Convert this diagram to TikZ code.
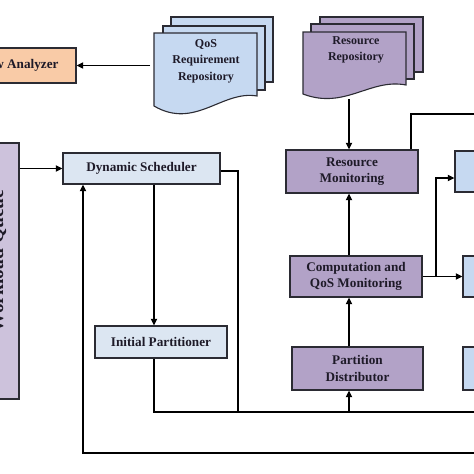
\documentclass[tikz,border=0pt]{standalone}
\usepackage{fontspec}
\setmainfont{Liberation Serif}
\usetikzlibrary{arrows.meta}
\definecolor{bordc}{HTML}{2B2B33}
\definecolor{orangef}{HTML}{F9CBA7}
\definecolor{qosf}{HTML}{C6D9F1}
\definecolor{lightbf}{HTML}{DCE6F2}
\definecolor{purpf}{HTML}{B2A2C7}
\definecolor{queuef}{HTML}{CDC2DC}
\definecolor{txtc}{HTML}{1E1A28}
\begin{document}
\begin{tikzpicture}[x=1pt,y=-1pt,
  boxbase/.style={draw=bordc, line width=1.2pt, inner sep=0pt, align=center,
    text=txtc, font=\bfseries\fontsize{13.2}{16.5}\selectfont},
  bluebox/.style={boxbase, fill=lightbf},
  purpbox/.style={boxbase, fill=purpf},
  docshape/.style={draw=bordc, line width=1.1pt},
  doctext/.style={text=txtc, align=center, font=\bfseries\fontsize{12}{16.5}\selectfont},
  conn/.style={draw=black, line width=1.7pt},
  arr/.style={conn, -{Triangle[length=6.5pt,width=6pt]}}]
\useasboundingbox (0,0) rectangle (474,474);
\fill[white] (0,0) rectangle (474,474);
\clip (0,0) rectangle (474,474);

% ---- documents
\filldraw[docshape, fill=qosf] (171,17) rectangle (273,82);
\filldraw[docshape, fill=qosf] (163,26) rectangle (265,90);
\filldraw[docshape, fill=qosf] (154,33) -- (257,33) -- (257,96)
  .. controls (222,90) and (195,130) .. (154,106) -- cycle;
\node[doctext] (qostext) at (206,61) {QoS\\Requirement\\Repository};

\filldraw[docshape, fill=purpf] (320,17) rectangle (423,72);
\filldraw[docshape, fill=purpf] (311,24) rectangle (414,79);
\filldraw[docshape, fill=purpf] (303,32) -- (406,32) -- (406,85)
  .. controls (370,78) and (345,110) .. (303,94) -- cycle;
\node[doctext] (rrtext) at (356,50) {Resource\\Repository};

% ---- boxes
\node[boxbase, fill=orangef, minimum width=146pt, minimum height=35pt] (analyzer) at (3,65.5) {Workflow Analyzer};
\node[boxbase, fill=queuef, minimum width=40pt, minimum height=256pt] (queue) at (-1,271) {};
\node[rotate=90, anchor=base, text=txtc, font=\bfseries\fontsize{19.5}{22}\selectfont] (queuetext) at (3,261) {Workload Queue};
\node[bluebox, minimum width=157pt, minimum height=31pt] (dsched) at (141.5,168.5) {Dynamic Scheduler};
\node[bluebox, minimum width=132pt, minimum height=32pt] (ipart) at (161,342) {Initial Partitioner};
\node[purpbox, minimum width=132pt, minimum height=43pt] (resmon) at (352,171.5) {Resource\\Monitoring};
\node[purpbox, minimum width=132pt, minimum height=41pt] (compmon) at (356,276.5) {Computation and\\QoS Monitoring};
\node[purpbox, minimum width=131pt, minimum height=43pt] (pdist) at (357.5,368.5) {Partition\\Distributor};
\node[bluebox, fill=qosf, minimum width=85pt, minimum height=41pt] (rone) at (497.5,171.5) {};
\node[bluebox, fill=qosf, minimum width=85pt, minimum height=41pt] (rtwo) at (505.5,276.5) {};
\node[bluebox, fill=qosf, minimum width=85pt, minimum height=43pt] (rthree) at (505.5,368.5) {};

% ---- helper coordinates
\coordinate (qosL) at (150,65.5);
\coordinate (rrB) at (349,99);
\coordinate (xmid) at (349,0);
\coordinate (xrm) at (411,0);
\coordinate (topR) at (480,114);
\coordinate (xbr) at (436,0);
\coordinate (xsd) at (154,0);
\coordinate (xdl) at (238,0);
\coordinate (xlp) at (83,0);
\coordinate (busR) at (480,412);
\coordinate (loopR) at (480,453);
\coordinate (busJ) at (349,412);

% ---- connectors
\draw[arr] (qosL) -- (analyzer.east);
\draw[arr] (rrB) -- (rrB |- resmon.north);
\draw[conn] (xrm |- resmon.north) |- (topR);
\draw[arr] (xmid |- compmon.north) -- (xmid |- resmon.south);
\draw[arr] (xmid |- pdist.north) -- (xmid |- compmon.south);
\draw[arr] (busJ) -- (xmid |- pdist.south);
\draw[arr] (compmon.east) -- (compmon.east -| rtwo.west);
\draw[arr] (xbr |- compmon.east) |- ([yshift=-6.5pt]rone.west);
\draw[arr] (queue.east |- dsched.west) -- (dsched.west);
\draw[arr] (xsd |- dsched.south) -- (xsd |- ipart.north);
\draw[conn] (xsd |- ipart.south) |- (busR);
\draw[conn] ([yshift=-2.5pt]dsched.east) -| (xdl |- busR);
\draw[arr] (loopR) -| (xlp |- dsched.south);
\end{tikzpicture}
\end{document}
